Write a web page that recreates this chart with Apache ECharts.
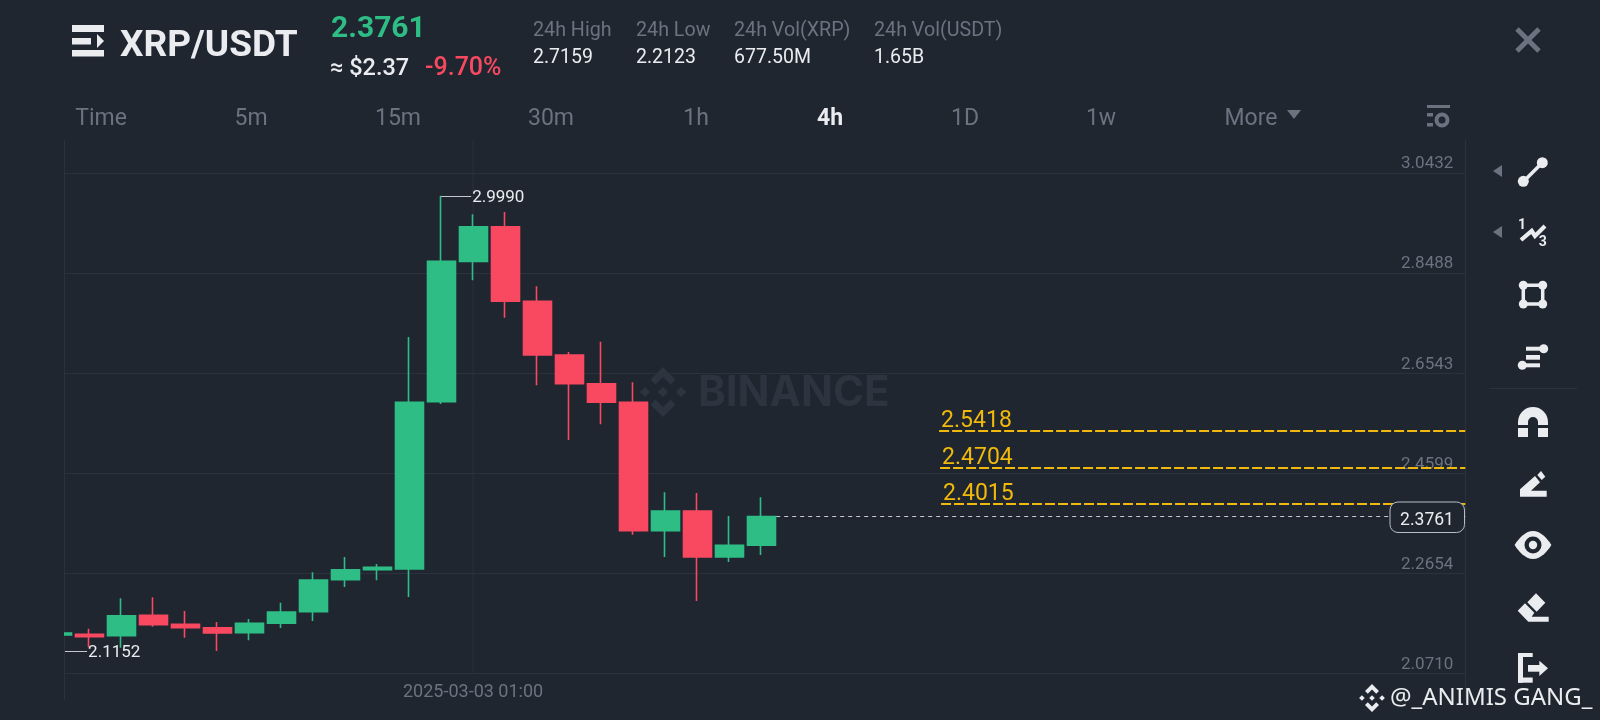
<!DOCTYPE html>
<html>
<head>
<meta charset="utf-8">
<style>html,body{margin:0;padding:0;background:#1f2630}</style>
</head>
<body>
<div id="container" style="width:1600px;height:720px;"></div>
<script src="https://cdn.jsdelivr.net/npm/echarts@6/dist/echarts.min.js"></script>
<script>
// candle values, one small array per field
var candleTimes=["02-28 21:00","03-01 01:00","03-01 05:00","03-01 09:00","03-01 13:00","03-01 17:00","03-01 21:00","03-02 01:00","03-02 05:00","03-02 09:00","03-02 13:00","03-02 17:00","03-02 21:00","2025-03-03 01:00","03-03 05:00","03-03 09:00","03-03 13:00","03-03 17:00","03-03 21:00","03-04 01:00","03-04 05:00","03-04 09:00","03-04 13:00"];
var opens =[2.1461,2.1475,2.1448,2.1844,2.1669,2.1603,2.1506,2.1688,2.1914,2.2535,2.2729,2.2743,2.5991,2.8717,2.9389,2.7941,2.6898,2.6341,2.5980,2.3486,2.3869,2.2976,2.3203];
var closes=[2.1500,2.1428,2.1836,2.1661,2.1603,2.1500,2.1688,2.1908,2.2529,2.2729,2.2776,2.5980,2.8717,2.9389,2.7941,2.6898,2.6341,2.5980,2.3486,2.3869,2.2976,2.3203,2.3761];
var lows  =[2.1442,2.1222,2.1215,2.1622,2.1409,2.1152,2.1358,2.1597,2.1733,2.2393,2.2523,2.2199,2.5947,2.8349,2.7622,2.6310,2.5248,2.5552,2.3409,2.2976,2.2123,2.2879,2.3015];
var highs =[2.1520,2.1583,2.2174,2.2193,2.1927,2.1714,2.1772,2.2088,2.2679,2.2976,2.2840,2.7248,2.9990,2.9630,2.9675,2.8232,2.6956,2.7156,2.6368,2.4232,2.4218,2.3772,2.4135];

var yTicks=[3.0432,2.8488,2.6543,2.4599,2.2654,2.0710];
var levels=[2.5418,2.4704,2.4015];
var levelStart=[27.56,27.59,27.62];
var lastPrice=2.3761;
var highMark=2.9990,lowMark=2.1152;

var tabs=["Time","5m","15m","30m","1h","4h","1D","1w","More"];
var tabCenters=[101,251,398,551,696,830,965,1101,1251];
var statLabels=["24h High","24h Low","24h Vol(XRP)","24h Vol(USDT)"];
var statValues=["2.7159","2.2123","677.50M","1.65B"];
var statLefts=[533,636,734,874];

var BG="#1f2630",LINE="#2b323c",GREEN="#2ebd85",RED="#f84960",GOLD="#f0b90b",DIM="#6b7380",WHITE="#eaecef";
var FONT="Roboto, sans-serif";

// index of a candle sits at 57+32*i px, plot runs 64.3..1465.3
var xMin=0.228,xMax=44;
var yMax=3.1073,yMin=2.0199;

var candleData=opens.map(function(o,i){return [i,o,closes[i],lows[i],highs[i]];});

function txt(x,y,s,size,color,weight,align,family){
    return {type:"text",x:x,y:y,silent:true,style:{text:s,fontSize:size,fill:color,fontWeight:weight||400,
        align:align||"left",verticalAlign:"middle",fontFamily:family||FONT}};
}
function rect(x,y,w,h,c){return {type:"rect",silent:true,shape:{x:x,y:y,width:w,height:h},style:{fill:c||WHITE}};}
function circ(x,y,r,c){return {type:"circle",silent:true,shape:{cx:x,cy:y,r:r},style:{fill:c||WHITE}};}
function poly(pts,c){return {type:"polygon",silent:true,shape:{points:pts},style:{fill:c||WHITE}};}
function pline(pts,w,c){return {type:"polyline",silent:true,shape:{points:pts},style:{stroke:c||WHITE,lineWidth:w,fill:null}};}

// the diamond logo, cx/cy centre and s half size
function logo(cx,cy,s,c){
    function p(a){return a.map(function(q){return [cx+q[0]*s,cy+q[1]*s];});}
    function dia(x,y,h){return poly(p([[x,y-h],[x+h,y],[x,y+h],[x-h,y]]),c);}
    return [
        poly(p([[0,-1],[.5,-.5],[.3,-.3],[0,-.6],[-.3,-.3],[-.5,-.5]]),c),
        poly(p([[0,1],[.5,.5],[.3,.3],[0,.6],[-.3,.3],[-.5,.5]]),c),
        dia(0,0,.2),dia(-.72,0,.2),dia(.72,0,.2)
    ];
}
// eye outline, two parabolas meeting in points
function eyeShape(cx,cy,w,h){
    var pts=[];
    for(var k=0;k<40;k++){
        var a=k/40*Math.PI*2,s=Math.sin(a);
        pts.push([cx+w*Math.cos(a),cy+h*s*Math.abs(s)]);
    }
    return poly(pts);
}

var g=[];
// header
g.push(rect(72,25,32,7),rect(72,38,19,6.5),poly([[97,34],[104,41],[97,48]]),rect(72,50,32,6.5));
g.push(txt(120,47,"XRP/USDT",37,WHITE,700));
g.push(txt(331,29,"2.3761",30,GREEN,700));
g.push(txt(330,69,"≈ $2.37",23.5,WHITE,500));
g.push(txt(425,69,"-9.70%",25,RED,500));
statLabels.forEach(function(s,i){
    g.push(txt(statLefts[i],31,s,19.7,DIM));
    g.push(txt(statLefts[i],58,statValues[i],19.5,WHITE));
});
tabs.forEach(function(s,i){
    g.push(txt(tabCenters[i],119.5,s,23,s=="4h"?WHITE:DIM,s=="4h"?700:400,"center"));
});
g.push(poly([[1287,110],[1301,110],[1294,119]],DIM));
// settings icon
g.push(rect(1427,105,23,3,DIM),rect(1427,113,6,3.5,DIM),rect(1427,123,6,3.5,DIM));
g.push({type:"circle",silent:true,shape:{cx:1442,cy:120,r:5.5},style:{fill:BG,stroke:DIM,lineWidth:4}});
// close
g.push(pline([[1517,29],[1539,51]],5,DIM),pline([[1539,29],[1517,51]],5,DIM));

// toolbar
g.push(poly([[1502,165],[1502,177],[1493,171]],DIM),poly([[1502,226],[1502,238],[1493,232]],DIM));
g.push(pline([[1542,163],[1524,181]],3.5),circ(1542.3,162.7,5.5),circ(1523.3,181.3,5.5));
g.push(pline([[1521,240],[1531.7,231],[1535,236],[1545,226]],4.2));
g.push(txt(1522,225,"1",14,WHITE,700,"center"),txt(1542.7,242,"3",14,WHITE,700,"center"));
g.push({type:"rect",silent:true,shape:{x:1523.3,y:285.3,width:19.4,height:18.7},style:{fill:null,stroke:WHITE,lineWidth:3.5}});
g.push(circ(1523.3,285.3,4.5),circ(1542.7,285.3,4.5),circ(1523.3,304,4.5),circ(1542.7,304,4.5));
g.push(circ(1543.7,348.7,4.5),rect(1526,346.7,15,4),rect(1526,355,14,4.7),circ(1522.3,365.3,4.5),rect(1522,363.3,18,4));
g.push(rect(1489,388,88,1,LINE));
// magnet
g.push({type:"arc",silent:true,shape:{cx:1533,cy:422,r:10,startAngle:Math.PI,endAngle:Math.PI*2,clockwise:true},style:{stroke:WHITE,lineWidth:10,fill:null}});
g.push(rect(1518,422,10,3),rect(1538,422,10,3));
g.push(rect(1518,428,10,9),rect(1538,428,10,9));
// pencil
g.push(poly([[1520,489.3],[1535,476],[1540,482.3],[1531,490.7],[1546.7,490.7],[1546.7,496.7],[1520,496.7]]));
g.push(poly([[1537.3,475],[1541,471],[1545.3,476.7],[1541.7,480]]));
// eye
g.push(eyeShape(1533,545,18.5,14));
g.push(circ(1533,545,8.5,BG),circ(1533,545,4.2));
// eraser
g.push(poly([[1536,593.3],[1545.3,602.7],[1536.7,611.7],[1527.3,602.3]]));
g.push(poly([[1517.7,610.7],[1525,603.3],[1534.3,612.7],[1531.7,616.7],[1548.7,616.7],[1548.7,621.7],[1528.3,621.7]]));
// exit
g.push(rect(1518,653,5,29.7),rect(1518,653,14.7,4),rect(1518,677.5,14.7,5.2));
g.push(rect(1528,665,12,6.7),poly([[1539.3,660.7],[1548,668.3],[1539.3,676]]));

// price tag on the right axis
g.push({type:"rect",silent:true,z:10,shape:{x:1390,y:502,width:74.5,height:30.5,r:8},style:{fill:BG,stroke:"#b7bdc6",lineWidth:1}});
var tag=txt(1427,521,"2.3761",17.5,WHITE,400,"center");tag.z=11;
g.push(tag);

// the first candle is cut off by the left edge of the plot
var cut=rect(38,626,26,14,BG);cut.z=5;
g.push(cut);

// watermark
logo(663,392,25,"#2c3440").forEach(function(e){e.z=-1;g.push(e);});
var wm=txt(698,393,"BINANCE",42,"#2c3440",700,"left","Inter, sans-serif");wm.z=-1;
g.push(wm);
// credit bottom right
logo(1372,698,14,WHITE).forEach(function(e){g.push(e);});
g.push(txt(1390,698,"@_ANIMIS GANG_",24,WHITE,400,"left","'Noto Sans', sans-serif"));

var marks=[];
levels.forEach(function(v,i){
    marks.push([{coord:[levelStart[i],v],lineStyle:{color:GOLD,width:2,type:[10,3]},
        label:{show:true,position:"insideStartTop",distance:[2,-2],formatter:v.toFixed(4),color:GOLD,fontSize:23,fontFamily:FONT,padding:0}},
        {coord:[xMax,v]}]);
});
function leader(x1,x2,v){
    return [{coord:[x1,v],lineStyle:{color:"#c4c8ce",width:1,type:"solid"},
        label:{show:true,position:"end",distance:1,formatter:v.toFixed(4),color:WHITE,fontSize:17,fontFamily:FONT,offset:[0,2]}},
        {coord:[x2,v]}];
}
marks.push(leader(12,12.94,highMark));
marks.push(leader(0.25,0.94,lowMark));
marks.push([{coord:[22.47,lastPrice],lineStyle:{color:"#c4c8ce",width:1,type:[4,4]},label:{show:false}},{coord:[xMax,lastPrice]}]);

var dom=document.getElementById("container");
var myChart=echarts.init(dom);

var option={
    backgroundColor:BG,
    animation:false,
    textStyle:{fontFamily:FONT},
    graphic:{elements:g},
    grid:{left:64.3,top:140,width:1401,height:560,show:false},
    xAxis:{type:"value",min:xMin,max:xMax,
        axisLine:{show:false},
        axisTick:{show:false,customValues:[xMin,xMax]},
        splitLine:{show:true,lineStyle:{color:LINE,width:1}},
        axisLabel:{show:true,inside:true,margin:8,color:DIM,fontSize:18,fontFamily:FONT,
            customValues:[13],verticalAlign:"middle",formatter:function(v){return candleTimes[Math.round(v)];}}
    },
    yAxis:{type:"value",position:"right",min:yMin,max:yMax,
        axisLine:{show:false},
        axisTick:{show:false,customValues:yTicks},
        splitLine:{show:true,lineStyle:{color:LINE,width:1}},
        axisLabel:{show:true,inside:true,margin:12,color:DIM,fontSize:17,fontFamily:FONT,
            customValues:yTicks,verticalAlign:"bottom",lineHeight:18,formatter:function(v){return v.toFixed(4);}}
    },
    series:[{
        // crosshair, stops at the lowest grid line
        type:"line",z:1,showSymbol:false,silent:true,
        data:[[13,yMax],[13,yTicks[5]]],
        lineStyle:{color:LINE,width:1}
    },{
        type:"candlestick",z:2,
        data:candleData,
        barWidth:28.5,
        encode:{x:0,y:[1,2,3,4]},
        itemStyle:{color:GREEN,color0:RED,borderColor:GREEN,borderColor0:RED,borderWidth:1.6},
        markLine:{silent:true,symbol:"none",animation:false,data:marks}
    }]
};

if (option && typeof option === "object") {
    myChart.setOption(option, true);
}
</script>
</body>
</html>
